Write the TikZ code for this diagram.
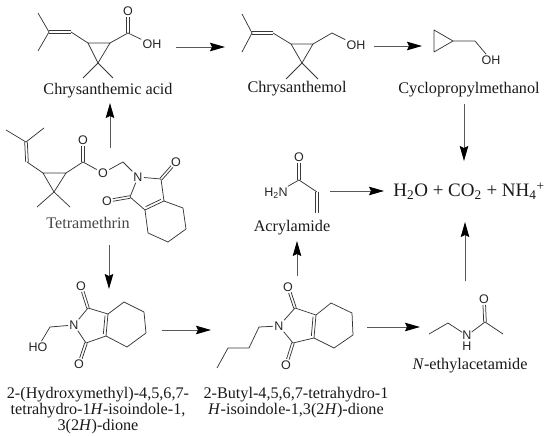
\documentclass[tikz,border=0pt]{standalone}
\usepackage{fontspec}
\setmainfont{Liberation Serif}
\newfontfamily\atomfont{Liberation Sans}
\usetikzlibrary{arrows.meta,calc}
\tikzset{
 bond/.style={draw=black!78,line width=0.75pt,line join=round},
 atom/.style={font=\atomfont\fontsize{12.5}{13}\selectfont,text=black!85,inner sep=1.2pt},
 lab/.style={font=\fontsize{16.2}{16}\selectfont,text=black!90,inner sep=0pt,align=center},
 rxn/.style={draw=black!65,line width=0.8pt,-{Stealth[length=15pt,width=8.5pt,inset=2pt,color=black]}},
}
\newcommand{\dbond}[2]{%
 \draw[bond,shorten >=6pt] ($(#1)!1.3pt!90:(#2)$) -- ($(#2)!1.3pt!-90:(#1)$);
 \draw[bond,shorten >=6pt] ($(#1)!1.3pt!-90:(#2)$) -- ($(#2)!1.3pt!90:(#1)$);}
\newcommand{\ddbond}[2]{%
 \draw[bond] ($(#1)!1.3pt!90:(#2)$) -- ($(#2)!1.3pt!-90:(#1)$);
 \draw[bond] ($(#1)!1.3pt!-90:(#2)$) -- ($(#2)!1.3pt!90:(#1)$);}
\newcommand{\rdbond}[3][1]{% ring double bond; #1 = side
 \draw[bond] (#2) -- (#3);
 \draw[bond,shorten >=2pt,shorten <=2pt] ($(#2)!2.8pt!#1*90:(#3)$) -- ($(#3)!2.8pt!-#1*90:(#2)$);}
\newcommand{\chain}[1]{\draw[bond] #1;}
\begin{document}
\begin{tikzpicture}[x=1pt,y=-1pt]
\useasboundingbox (0,0) rectangle (550,436);
% ---------- Chrysanthemic acid
\coordinate (a1) at (38,13); \coordinate (a2) at (49,32); \coordinate (a3) at (38,51);
\coordinate (a4) at (71,32); \coordinate (a5) at (88,43); \coordinate (a6) at (110,43);
\coordinate (a7) at (98,63); \coordinate (a8) at (83,78); \coordinate (a9) at (113,78);
\coordinate (a10) at (128,33);
\node[atom] (aO) at (128,11) {O};
\node[atom] (aOH) at (152,44.5) {OH};
\chain{(a1)--(a2)--(a3)}
\ddbond{a2}{a4}
\chain{(a4)--(a5)}
\chain{(a5)--(a6)--(a7)--cycle}
\chain{(a8)--(a7)--(a9)}
\chain{(a6)--(a10)--(aOH)}
\dbond{a10}{aO}
\node[lab] (acid) at (108,90.5) {Chrysanthemic acid};
% ---------- Chrysanthemol
\coordinate (b1) at (242,14); \coordinate (b2) at (252,33); \coordinate (b3) at (242,52);
\coordinate (b4) at (273,33); \coordinate (b5) at (291,44); \coordinate (b6) at (313,44);
\coordinate (b7) at (302,63); \coordinate (b8) at (286,79); \coordinate (b9) at (318,79);
\coordinate (b10) at (332,33);
\node[atom] (bOH) at (356,45) {OH};
\chain{(b1)--(b2)--(b3)}
\ddbond{b2}{b4}
\chain{(b4)--(b5)}
\chain{(b5)--(b6)--(b7)--cycle}
\chain{(b8)--(b7)--(b9)}
\chain{(b6)--(b10)--(bOH)}
\node[lab] (ol) at (297,88.5) {Chrysanthemol};
% ---------- Cyclopropylmethanol
\coordinate (c1) at (434,30); \coordinate (c2) at (434,52); \coordinate (c3) at (453,41);
\coordinate (c4) at (475,41);
\node[atom] (cOH) at (491,60) {OH};
\chain{(c1)--(c2)--(c3)--cycle}
\chain{(c3)--(c4)--(cOH)}
\node[lab] (cpm) at (469,89.5) {Cyclopropylmethanol};
% ---------- Products
\node[font=\fontsize{19}{20}\selectfont,text=black!90,inner sep=0pt] (prod) at (469,191) {H\textsubscript{2}O + CO\textsubscript{2} + NH\textsubscript{4}\textsuperscript{+}};
% ---------- Tetramethrin
\coordinate (t1) at (6,130); \coordinate (t2) at (26,142); \coordinate (t3) at (44,128);
\coordinate (t4) at (27,162); \coordinate (t5) at (43,173); \coordinate (t6) at (66,173);
\coordinate (t7) at (54,192); \coordinate (t8) at (37,207); \coordinate (t9) at (70,207);
\coordinate (t10) at (83,162); \coordinate (t11) at (123,162);
\coordinate (t12) at (161,179); \coordinate (t13) at (130,197); \coordinate (t14) at (164,201);
\coordinate (t15) at (145,210); \coordinate (t16) at (183,208); \coordinate (t17) at (186,229);
\coordinate (t18) at (168,242); \coordinate (t19) at (148,233);
\node[atom] (tO1) at (83,140) {O};
\node[atom] (tO2) at (103,173) {O};
\node[atom] (tN) at (138,177) {N};
\node[atom] (tO3) at (176,162) {O};
\node[atom] (tO4) at (107,201) {O};
\chain{(t1)--(t2)--(t3)}
\ddbond{t2}{t4}
\chain{(t4)--(t5)}
\chain{(t5)--(t6)--(t7)--cycle}
\chain{(t8)--(t7)--(t9)}
\chain{(t6)--(t10)--(tO2)}
\dbond{t10}{tO1}
\chain{(tO2)--(t11)--(tN)}
\chain{(tN)--(t12)--(t14)}
\chain{(tN)--(t13)--(t15)}
\dbond{t12}{tO3}
\dbond{t13}{tO4}
\rdbond[-1]{t14}{t15}
\chain{(t14)--(t16)--(t17)--(t18)--(t19)--(t15)}
\node[lab,text=black!72] (tet) at (88,223) {Tetramethrin};
% ---------- Hydroxymethyl imide
\node[atom] (hN) at (74,325) {N};
\node[atom] (hO1) at (81,286) {O};
\node[atom] (hO2) at (79,364) {O};
\node[atom] (hHO) at (38,347) {HO};
\coordinate (h1) at (88,308); \coordinate (h2) at (86,343); \coordinate (h3) at (108,314);
\coordinate (h4) at (106,336); \coordinate (h5) at (124,302); \coordinate (h6) at (144,312);
\coordinate (h7) at (146,333); \coordinate (h8) at (127,347); \coordinate (h9) at (50,327);
\chain{(hN)--(h1)--(h3)}
\chain{(hN)--(h2)--(h4)}
\dbond{h1}{hO1}
\dbond{h2}{hO2}
\rdbond[-1]{h3}{h4}
\chain{(h3)--(h5)--(h6)--(h7)--(h8)--(h4)}
\chain{(hN)--(h9)--(hHO)}
\node[lab] (hlab) at (98,411) {2-(Hydroxymethyl)-4,5,6,7-\\tetrahydro-1\textit{H}-isoindole-1,\\3(2\textit{H})-dione};
% ---------- Butyl imide
\node[atom] (uN) at (279,326) {N};
\node[atom] (uO1) at (288,287) {O};
\node[atom] (uO2) at (286,365) {O};
\coordinate (u1) at (295,308); \coordinate (u2) at (293,343); \coordinate (u3) at (316,315);
\coordinate (u4) at (314,338); \coordinate (u5) at (331,303); \coordinate (u6) at (352,313);
\coordinate (u7) at (353,335); \coordinate (u8) at (334,348); \coordinate (u9) at (259,327);
\coordinate (u10) at (249,348); \coordinate (u11) at (228,348); \coordinate (u12) at (217,368);
\chain{(uN)--(u1)--(u3)}
\chain{(uN)--(u2)--(u4)}
\dbond{u1}{uO1}
\dbond{u2}{uO2}
\rdbond[-1]{u3}{u4}
\chain{(u3)--(u5)--(u6)--(u7)--(u8)--(u4)}
\chain{(uN)--(u9)--(u10)--(u11)--(u12)}
\node[lab] (ulab) at (296,403) {2-Butyl-4,5,6,7-tetrahydro-1\\\textit{H}-isoindole-1,3(2\textit{H})-dione};
% ---------- Acrylamide
\node[atom] (rO) at (299,157) {O};
\node[atom] (rN) at (276,193) {H\textsubscript{2}N};
\coordinate (r1) at (299,180); \coordinate (r2) at (317,192); \coordinate (r3) at (317,213);
\dbond{r1}{rO}
\chain{(rN)--(r1)--(r2)}
\ddbond{r2}{r3}
\node[lab] (acry) at (292,228) {Acrylamide};
% ---------- N-ethylacetamide
\node[atom,inner sep=0pt] (eN) at (467,335.5) {N};
\node[atom,inner sep=0pt] (eH) at (467,346) {H};
\node[atom] (eO) at (484,299) {O};
\coordinate (e1) at (429,334); \coordinate (e2) at (448,323); \coordinate (e3) at (485,322);
\coordinate (e4) at (503,334);
\chain{(e1)--(e2)--(eN)}
\chain{(eN)--(e3)--(e4)}
\dbond{e3}{eO}
\node[lab] (elab) at (470,365.5) {\textit{N}-ethylacetamide};
% ---------- Arrow end points
\coordinate (p1s) at (176,47); \coordinate (p1e) at (225,47);
\coordinate (p2s) at (374,46); \coordinate (p2e) at (422,46);
\coordinate (p3s) at (464,104); \coordinate (p3e) at (464,161);
\coordinate (p4s) at (330,191); \coordinate (p4e) at (384,191);
\coordinate (p5s) at (110,148); \coordinate (p5e) at (110,103);
\coordinate (p6s) at (109,245); \coordinate (p6e) at (109,289);
\coordinate (p7s) at (162,330); \coordinate (p7e) at (211,330);
\coordinate (p8s) at (297,276); \coordinate (p8e) at (297,241);
\coordinate (p9s) at (367,327); \coordinate (p9e) at (420,327);
\coordinate (p10s) at (465,281); \coordinate (p10e) at (465,222);
\foreach \n in {1,...,10} {\draw[rxn] (p\n s) -- (p\n e);}
\end{tikzpicture}
\end{document}
